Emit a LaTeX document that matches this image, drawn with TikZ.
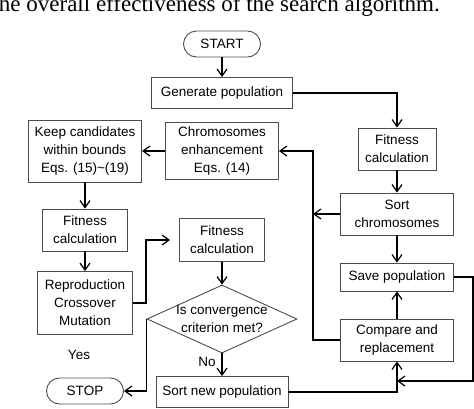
\documentclass[tikz,border=0pt]{standalone}
\usepackage{fontspec}
\setmainfont{Liberation Sans}
\newfontfamily\capfont{Liberation Serif}
\usetikzlibrary{arrows.meta,shapes.geometric}

\begin{document}
\begin{tikzpicture}[x=1pt, y=-1pt,
  box/.style={draw=black!70, line width=0.9pt, align=center, inner sep=0pt, font=\fontsize{13.5}{18}\selectfont},
  term/.style={box, rounded corners=13pt, minimum width=77pt, minimum height=26pt},
  flow/.style={draw, line width=1.2pt, -{Straight Barb[length=7pt,width=10pt]}}]
\useasboundingbox (0,0) rectangle (474,408);
\node[anchor=base east, inner sep=0pt, font=\capfont\fontsize{23}{25}\selectfont] (caption) at (440,11) {the overall effectiveness of the search algorithm.};

\node[term] (start) at (222,44) {START};
\node[box, minimum width=141pt, minimum height=31pt] (gen) at (222,93) {Generate population};
\node[box, minimum width=78pt, minimum height=42pt] (fitR) at (397,149) {Fitness\\calculation};
\node[box, minimum width=113pt, minimum height=42pt] (sortc) at (397,214) {Sort\\chromosomes};
\node[box, minimum width=113pt, minimum height=28pt] (save) at (397,277) {Save population};
\node[box, minimum width=113pt, minimum height=42pt] (comp) at (397,340) {Compare and\\replacement};
\node[box, minimum width=113pt, minimum height=57pt] (chrom) at (222,151) {Chromosomes\\enhancement\\Eqs. (14)};
\node[box, minimum width=113pt, minimum height=62pt] (keep) at (85,151) {Keep candidates\\within bounds\\Eqs. (15)\textasciitilde(19)};
\node[box, minimum width=85pt, minimum height=42pt] (fitL) at (85,230) {Fitness\\calculation};
\node[box, minimum width=95pt, minimum height=63pt] (repro) at (85,303) {Reproduction\\Crossover\\Mutation};
\node[box, minimum width=85pt, minimum height=43pt] (fitM) at (222,240) {Fitness\\calculation};
\node[diamond, draw=black!70, line width=0.9pt, minimum width=150pt, minimum height=68pt, inner sep=0pt] (conv) at (222,319) {};
\node[box, draw=none] (convtext) at (conv) {Is convergence\\criterion met?};
\node[box, minimum width=132pt, minimum height=31pt] (sortn) at (222,392) {Sort new population};
\node[term] (stop) at (85,391) {STOP};
\node[box, draw=none] (yes) at (79,355) {Yes};
\node[box, draw=none] (no) at (207,362) {No};

\coordinate (bus) at (313,151);
\coordinate (loop) at (473,381);

\draw[flow] (start) -- (gen);
\draw[flow] (gen.east) -| (fitR.north);
\draw[flow] (fitR) -- (sortc);
\draw[flow] (sortc) -- (save);
\draw[flow] (comp) -- (save);
\draw[flow] (comp.west) -| (bus) -- (chrom.east);
\draw[flow] (sortc.west) -- (sortc.west -| bus);
\draw[flow] (chrom) -- (keep);
\draw[flow] (keep) -- (fitL);
\draw[flow] (fitL) -- (repro);
\draw[flow, shorten >=9pt] (repro.east) -- ++(13,0) |- (fitM.west);
\draw[flow] (fitM) -- (conv);
\draw[flow] (conv) -- (sortn);
\draw[flow] (conv.west) |- (stop.east);
\draw[flow] (sortn.east) -| (comp.south);
\draw[flow] (save.east) -| (loop) -- (loop -| comp.south);
\end{tikzpicture}
\end{document}
